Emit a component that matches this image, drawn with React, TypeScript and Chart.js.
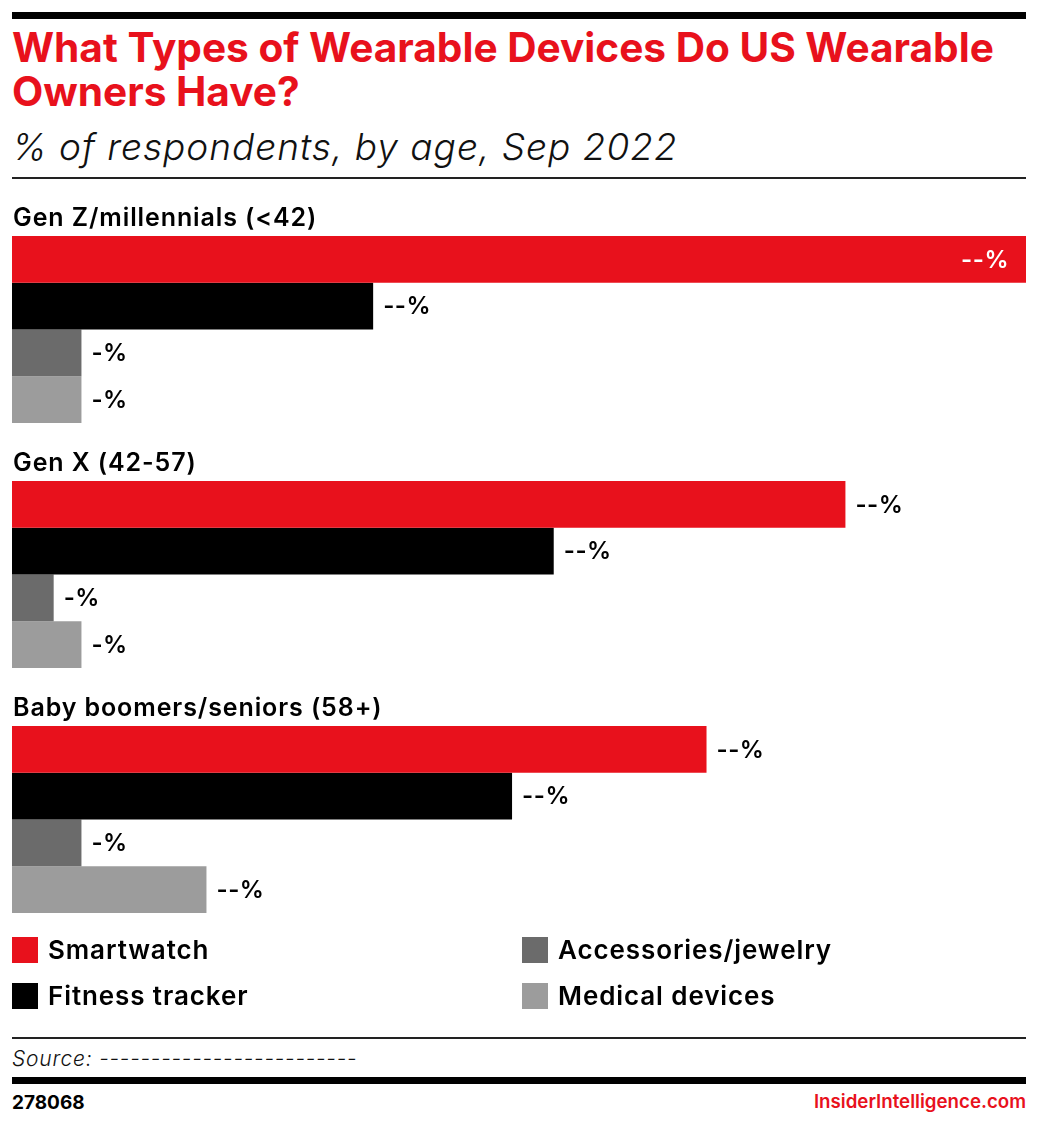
import React, { useEffect, useRef } from "react";
import { Chart, registerables } from "chart.js";

Chart.register(...registerables);

const groups = ["Gen Z/millennials (<42)", "Gen X (42-57)", "Baby boomers/seniors (58+)"];
const seriesNames = ["Smartwatch", "Fitness tracker", "Accessories/jewelry", "Medical devices"];
const smartwatch = [73, 60, 50];
const fitnessTracker = [26, 39, 36];
const accessories = [5, 3, 5];
const medical = [5, 5, 14];
const seriesColors = ["#E8111C", "#000000", "#6B6B6B", "#9C9C9C"];
const axisMax = 73;

const FONT = "Inter, 'Open Sans', sans-serif";
const RED = "#E8111C";

function T(props: { x: number; baseline: number; size: number; weight?: number; italic?: boolean; color?: string; right?: boolean; spacing?: number; children: any }) {
  const { x, baseline, size, weight = 400, italic = false, color = "#000", right = false, spacing = 0, children } = props;
  const style: any = {
    position: "absolute",
    top: baseline - 0.864 * size,
    fontFamily: FONT,
    fontSize: size,
    lineHeight: `${size}px`,
    fontWeight: weight,
    fontStyle: italic ? "italic" : "normal",
    letterSpacing: spacing,
    color,
    whiteSpace: "nowrap",
  };
  if (right) style.right = 1038 - x - spacing;
  else style.left = x;
  return <div style={style}>{children}</div>;
}

export default function App() {
  const ref = useRef<HTMLCanvasElement>(null);

  useEffect(() => {
    if (!ref.current) return;
    const data = [smartwatch, fitnessTracker, accessories, medical];
    const labelPlugin = {
      id: "labels",
      afterDatasetsDraw(chart: any) {
        const ctx = chart.ctx;
        ctx.save();
        const meta0 = chart.getDatasetMeta(0);
        ctx.font = `600 25px ${FONT}`;
        (ctx as any).letterSpacing = "0.9px";
        ctx.fillStyle = "#000";
        ctx.textAlign = "left";
        ctx.textBaseline = "alphabetic";
        meta0.data.forEach((bar: any, i: number) => {
          const top = bar.y - bar.height / 2;
          ctx.fillText(groups[i], chart.chartArea.left + 1, top - 10);
        });
        (ctx as any).letterSpacing = "0.5px";
        ctx.font = `600 24px ${FONT}`;
        ctx.textBaseline = "middle";
        chart.data.datasets.forEach((ds: any, di: number) => {
          const meta = chart.getDatasetMeta(di);
          meta.data.forEach((bar: any, i: number) => {
            const v = ds.data[i];
            const txt = (v >= 10 ? "--" : "-") + "%";
            const w = ctx.measureText(txt).width;
            if (bar.x + 10 + w > chart.chartArea.right) {
              ctx.fillStyle = "#fff";
              ctx.textAlign = "right";
              ctx.fillText(txt, bar.x - 17, bar.y + 1);
            } else {
              ctx.fillStyle = "#000";
              ctx.textAlign = "left";
              ctx.fillText(txt, bar.x + 10, bar.y + 1);
            }
          });
        });
        ctx.restore();
      },
    };
    const chart = new Chart(ref.current, {
      type: "bar",
      data: {
        labels: groups,
        datasets: seriesNames.map((name, i) => ({
          label: name,
          data: data[i],
          backgroundColor: seriesColors[i],
          borderWidth: 0,
          categoryPercentage: 0.763,
          barPercentage: 1,
        })),
      },
      options: {
        indexAxis: "y",
        animation: false,
        responsive: false,
        maintainAspectRatio: false,
        layout: { padding: { top: 21, bottom: 4, left: 12, right: 12 } },
        plugins: { legend: { display: false }, tooltip: { enabled: false } },
        scales: {
          x: { display: false, min: 0, max: axisMax },
          y: { display: false, offset: true },
        },
      },
      plugins: [labelPlugin],
    } as any);
    return () => chart.destroy();
  }, []);

  const legendItem = (i: number, x: number, y: number) => (
    <div key={i} style={{ position: "absolute", left: x, top: y, height: 26, display: "flex", alignItems: "center" }}>
      <div style={{ width: 26, height: 26, background: seriesColors[i] }} />
      <div style={{ marginLeft: 10, fontFamily: FONT, fontWeight: 600, fontSize: 26, letterSpacing: 0.9, lineHeight: "26px", color: "#000", whiteSpace: "nowrap" }}>
        {seriesNames[i]}
      </div>
    </div>
  );

  return (
    <div style={{ position: "fixed", left: 0, top: 0, width: 1038, height: 1126, background: "#fff", overflow: "hidden" }}>
      <div style={{ position: "absolute", left: 12, top: 12, width: 1014, height: 7, background: "#000" }} />
      <T x={12} baseline={63} size={40.6} weight={700} color={RED}>What Types of Wearable Devices Do US Wearable</T>
      <T x={12} baseline={107} size={40.6} weight={700} color={RED}>Owners Have?</T>
      <T x={12} baseline={160} size={37} weight={300} italic spacing={1} color="#111">% of respondents, by age, Sep 2022</T>
      <div style={{ position: "absolute", left: 12, top: 177, width: 1014, height: 2, background: "#222" }} />
      <canvas ref={ref} width={1038} height={760} style={{ position: "absolute", left: 0, top: 186, width: 1038, height: 760 }} />
      {legendItem(0, 12, 937)}
      {legendItem(1, 12, 983)}
      {legendItem(2, 522, 937)}
      {legendItem(3, 522, 983)}
      <div style={{ position: "absolute", left: 12, top: 1037, width: 1014, height: 2, background: "#222" }} />
      <T x={12} baseline={1066} size={21} weight={300} italic spacing={0.8} color="#111">Source: -------------------------</T>
      <div style={{ position: "absolute", left: 12, top: 1077, width: 1014, height: 7, background: "#000" }} />
      <T x={12} baseline={1109} size={19} weight={700} color="#000">278068</T>
      <T x={1026} baseline={1109} size={18.7} weight={600} color={RED} right>InsiderIntelligence.com</T>
    </div>
  );
}
